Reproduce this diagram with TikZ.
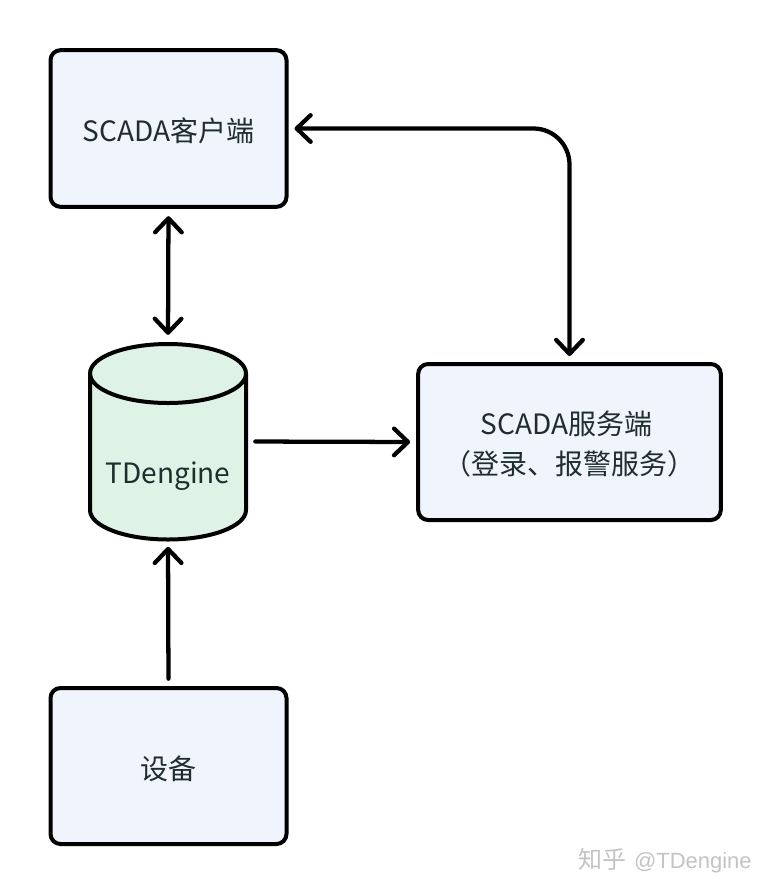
\documentclass[tikz,border=0pt]{standalone}
\usepackage{fontspec}
\setmainfont{Noto Sans CJK SC}
\newfontfamily\wmfont{Liberation Sans}
\usetikzlibrary{arrows.meta}
\definecolor{boxfill}{HTML}{EFF4FD}
\definecolor{dbfill}{HTML}{DEF3E6}
\definecolor{inkc}{HTML}{1F2D2D}
\definecolor{wmc}{HTML}{C4C4C4}
\tikzset{
  x=0.75pt,y=-0.75pt,
  blockbox/.style={draw=black,line width=3pt,rounded corners=7.5pt,fill=boxfill,inner sep=0pt,outer sep=0pt},
  blocktext/.style={text=inkc,font=\fontsize{21}{30}\selectfont,align=center,inner sep=0pt},
  conn/.style={draw=black,line width=3.2pt,line cap=round,line join=round},
  barb/.tip={Straight Barb[length=10.5pt,width=20pt,line width=3.2pt,round]},
}
\begin{document}
\begin{tikzpicture}
\useasboundingbox (0,0) rectangle (772,894);
\fill[white] (0,0) rectangle (772,894);
\node[blockbox,minimum width=177pt,minimum height=117.5pt] (client) at (168.5,128.5) {};
\node[blocktext] (clientlabel) at (168.5,131) {SCADA客户端};
\node[blockbox,minimum width=227pt,minimum height=117pt] (server) at (569.5,442) {};
\node[blocktext] (serverlabel) at (569.5,444.5) {SCADA服务端\kern 4.5pt\\（登录、报警服务）};
\node[blockbox,minimum width=177pt,minimum height=117pt] (device) at (168.5,766) {};
\node[blocktext] (devicelabel) at (168.5,768.5) {设备};
% database cylinder
\path[fill=dbfill,draw=black,line width=3pt,line join=round]
  (90,373.5) arc[start angle=180,end angle=360,x radius=78,y radius=29.5]
  -- (246,510) arc[start angle=0,end angle=180,x radius=78,y radius=29.5] -- cycle;
\draw[black,line width=3pt] (90,373.5) arc[start angle=180,end angle=0,x radius=78,y radius=29.5];
\node[minimum width=117pt,minimum height=146pt,inner sep=0pt,outer sep=0pt] (db) at (168,441.5) {};
\node[text=inkc,font=\fontsize{21}{26}\selectfont,inner sep=0pt] (dblabel) at (168,476.5) {TDengine};
\coordinate (corner) at (server.north |- client.east);
\draw[conn,{barb}-{barb},shorten <=7pt,shorten >=7pt] (client.south) -- (db.north);
\draw[conn,-{barb},shorten <=7pt,shorten >=6pt] (db.east) -- (server.west);
\draw[conn,-{barb},shorten <=7pt,shorten >=6pt] (device.north) -- (db.south);
\draw[conn,{barb}-{barb},rounded corners=27pt,shorten <=6pt,shorten >=6pt] (client.east) -- (corner) -- (server.north);
\node[text=wmc,font=\fontsize{18}{20}\selectfont,anchor=east,inner sep=0pt] (mark) at (752,861) {知乎\kern 6pt{\wmfont\fontsize{16.5}{20}\selectfont @TDengine}};
\end{tikzpicture}
\end{document}
